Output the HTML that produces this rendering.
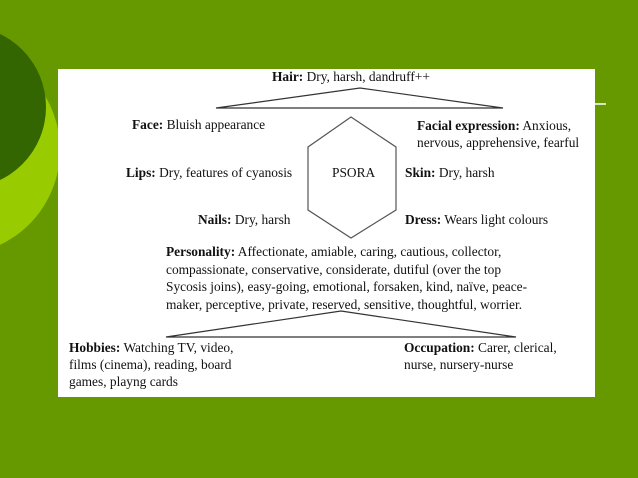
<!DOCTYPE html>
<html><head><meta charset="utf-8"><style>
body{margin:0;width:638px;height:478px;background:#669900;position:relative;overflow:hidden;font-family:"Liberation Serif",serif;}
.t{position:absolute;font-size:13.4px;color:#111;white-space:nowrap;line-height:16.5px;}
b{font-weight:bold;}
</style></head><body>
<svg width="638" height="478" style="position:absolute;left:0;top:0">
<circle cx="-45" cy="150" r="105" fill="#99cc00"/>
<circle cx="-35" cy="107" r="81" fill="#336600"/>
<rect x="58" y="69" width="537" height="328" fill="#fff"/>
<line x1="595" y1="104" x2="606" y2="104" stroke="#fff" stroke-width="1.5"/>
<polygon points="216,108 360,88 503,108" fill="none" stroke="#333" stroke-width="1.2"/>
<polygon points="166,337 341,311 516,337" fill="none" stroke="#333" stroke-width="1.2"/>
<polygon points="351,117 396,147 396,210 351,238 308,210 308,147" fill="none" stroke="#555" stroke-width="1.2"/>
</svg>
<div class="t" style="left:272px;top:69px"><b>Hair:</b> Dry, harsh, dandruff++</div>
<div class="t" style="left:132px;top:117px"><b>Face:</b> Bluish appearance</div>
<div class="t" style="left:417px;top:117px;line-height:17px"><b>Facial expression:</b> Anxious,<br>nervous, apprehensive, fearful</div>
<div class="t" style="left:126px;top:165px"><b>Lips:</b> Dry, features of cyanosis</div>
<div class="t" style="left:332px;top:165px">PSORA</div>
<div class="t" style="left:405px;top:165px"><b>Skin:</b> Dry, harsh</div>
<div class="t" style="left:198px;top:212px"><b>Nails:</b> Dry, harsh</div>
<div class="t" style="left:405px;top:212px"><b>Dress:</b> Wears light colours</div>
<div class="t" style="left:166px;top:243px;line-height:17.5px"><b>Personality:</b> Affectionate, amiable, caring, cautious, collector,<br>compassionate, conservative, considerate, dutiful (over the top<br>Sycosis joins), easy-going, emotional, forsaken, kind, naïve, peace-<br>maker, perceptive, private, reserved, sensitive, thoughtful, worrier.</div>
<div class="t" style="left:69px;top:339px;line-height:17px"><b>Hobbies:</b> Watching TV, video,<br>films (cinema), reading, board<br>games, playng cards</div>
<div class="t" style="left:404px;top:339px;line-height:17px"><b>Occupation:</b> Carer, clerical,<br>nurse, nursery-nurse</div>
</body></html>
